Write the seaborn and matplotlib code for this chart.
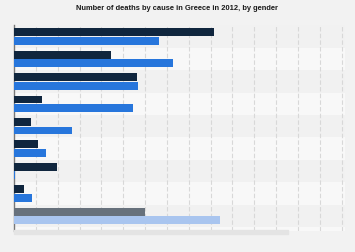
import pandas as pd
import matplotlib.pyplot as plt
import matplotlib.patches as mpatches
import seaborn as sns
import numpy as np

# categories (labels are not shown in the chart)
causes = ['Circulatory system', 'Neoplasms', 'Respiratory system', 'Heart disease',
          'Digestive system', 'Nervous system', 'External causes', 'Endocrine', 'Other']
male = [18270, 8920, 11230, 2530, 1550, 2160, 3930, 910, 12030]
female = [13270, 14520, 11390, 10870, 5300, 2920, 90, 1640, 18880]

df = pd.DataFrame({'Cause': causes * 2,
                   'Gender': ['Male'] * len(causes) + ['Female'] * len(causes),
                   'Deaths': male + female})

fig = plt.figure(figsize=(3.55, 2.53), dpi=100, facecolor='#f2f2f2')
ax = fig.add_axes([14 / 355, 1 - 232 / 253, 331 / 355, 206 / 253])
ax.set_facecolor('#f8f8f8')

# alternating row stripes
for i in range(len(causes)):
    if i % 2 == 0:
        ax.axhspan(i - 0.5, i + 0.5, color='#f1f1f1', zorder=0, lw=0)

sns.barplot(data=df, y='Cause', x='Deaths', hue='Gender', order=causes,
            palette={'Male': '#10263e', 'Female': '#2776dc'}, saturation=1,
            width=0.76, gap=0.08, ax=ax, zorder=3, legend=False)

# last row is highlighted in lighter tones
ax.containers[0][len(causes) - 1].set_facecolor('#67717c')
ax.containers[1][len(causes) - 1].set_facecolor('#a9c5ef')

ax.set_xlim(0, 30300)
ax.set_ylim(8.67, -0.51)
ax.set_xticks(np.arange(2000, 30001, 2000))
ax.grid(axis='x', color='#d8d8d8', linestyle=(0, (4, 2)), lw=0.8)
ax.set_axisbelow(True)
ax.set_xticklabels([])
ax.set_yticklabels([])
ax.tick_params(length=0)
ax.set_xlabel('')
ax.set_ylabel('')
for s in ['top', 'right', 'bottom']:
    ax.spines[s].set_visible(False)
ax.spines['left'].set_color('#777777')
ax.spines['left'].set_linewidth(1)

fig.text(0.5, 1 - 8 / 253, 'Number of deaths by cause in Greece in 2012, by gender',
         ha='center', va='center', fontsize=5.4, fontweight='bold',
         fontfamily='Liberation Sans', color='#1a1a1a')

# scrollbar-like strip at the bottom
fig.patches.append(mpatches.Rectangle((14 / 355, 1 - 235 / 253), 274 / 355, 4 / 253,
                                      transform=fig.transFigure, color='#e4e4e4', zorder=0))

plt.savefig('out.png', dpi=100, facecolor=fig.get_facecolor())
